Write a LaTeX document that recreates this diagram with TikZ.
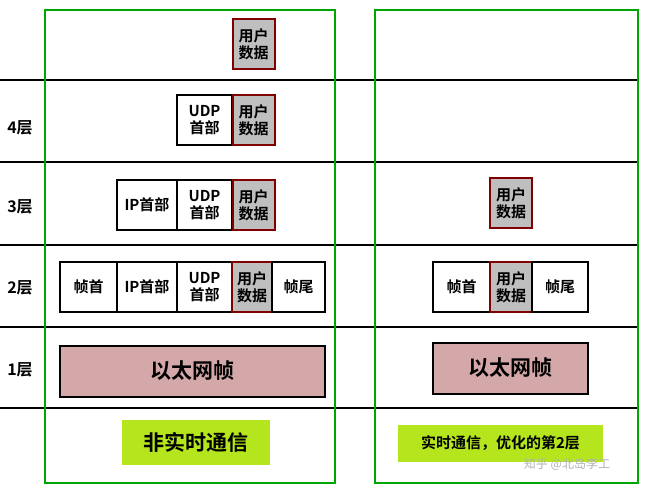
\documentclass[tikz,border=0pt]{standalone}
\usepackage{fontspec}
\setmainfont{Noto Sans CJK SC}[BoldFont={* Bold}]
\definecolor{hlc}{HTML}{B5E61D}
\definecolor{ethc}{HTML}{D4A8A8}
\begin{document}
\begin{tikzpicture}[x=1pt,y=-1pt,
 cell/.style={draw=black,line width=1.5pt,fill=white,minimum height=50pt,inner sep=0pt,font=\bfseries\fontsize{15}{17}\selectfont,align=center},
 data/.style={draw=red!50!black,line width=2pt,fill=black!25,minimum height=50pt,minimum width=42pt,inner sep=0pt,font=\bfseries\fontsize{15}{17}\selectfont,align=center},
 eth/.style={draw=black,line width=2pt,fill=ethc,minimum height=51pt,inner sep=0pt,font=\bfseries\fontsize{21}{23}\selectfont},
 lab/.style={font=\bfseries\fontsize{16}{18}\selectfont},
 hl/.style={fill=hlc,inner sep=3pt,font=\bfseries}]
\useasboundingbox (0,0) rectangle (651,493);
\fill[white] (0,0) rectangle (651,493);
\foreach \y in {80,162,245,327,408} \draw[line width=2pt] (0,\y) -- (638,\y);
\draw[green!65!black,line width=1.5pt] (45,10) rectangle (335,483);
\draw[green!65!black,line width=1.5pt] (375,10) rectangle (638,483);
\node[lab] (l4) at (20,128) {4层};
\node[lab] (l3) at (20,207) {3层};
\node[lab] (l2) at (20,288) {2层};
\node[lab] (l1) at (20,370) {1层};
\node[data] (d0) at (253.5,44) {用户\\数据};
\node[cell,minimum width=55pt] (u4) at (204.5,120) {UDP\\首部};
\node[data] (d4) at (253.5,120) {用户\\数据};
\node[cell,minimum width=60pt] (i3) at (147,205) {IP首部};
\node[cell,minimum width=55pt] (u3) at (204.5,205) {UDP\\首部};
\node[data] (d3) at (253.5,205) {用户\\数据};
\node[cell,minimum width=57pt] (f2) at (88.5,287) {帧首};
\node[cell,minimum width=60pt] (i2) at (147,287) {IP首部};
\node[cell,minimum width=55pt] (u2) at (204.5,287) {UDP\\首部};
\node[data,minimum width=40pt] (d2) at (252,287) {用户\\数据};
\node[cell,minimum width=53pt] (t2) at (298.5,287) {帧尾};
\node[eth,minimum width=265pt] (e1) at (192.5,371) {以太网帧};
\node[hl,minimum width=148pt,minimum height=45pt,font=\bfseries\fontsize{21}{23}\selectfont] (n1) at (196,442) {非实时通信};
\node[data] (rd3) at (511,203) {用户\\数据};
\node[cell,minimum width=57pt] (rf2) at (461.5,287) {帧首};
\node[data] (rd2) at (511,287) {用户\\数据};
\node[cell,minimum width=56pt] (rt2) at (560,287) {帧尾};
\node[eth,minimum width=155pt] (re1) at (510.5,368) {以太网帧};
\node[hl,minimum width=205pt,minimum height=37pt,font=\bfseries\fontsize{15}{17}\selectfont] (n2) at (500.5,443) {实时通信，优化的第2层};
\node[text=black!30,font=\fontsize{12}{14}\selectfont] (wm) at (567,464) {知乎 @北岛李工};
\end{tikzpicture}
\end{document}
